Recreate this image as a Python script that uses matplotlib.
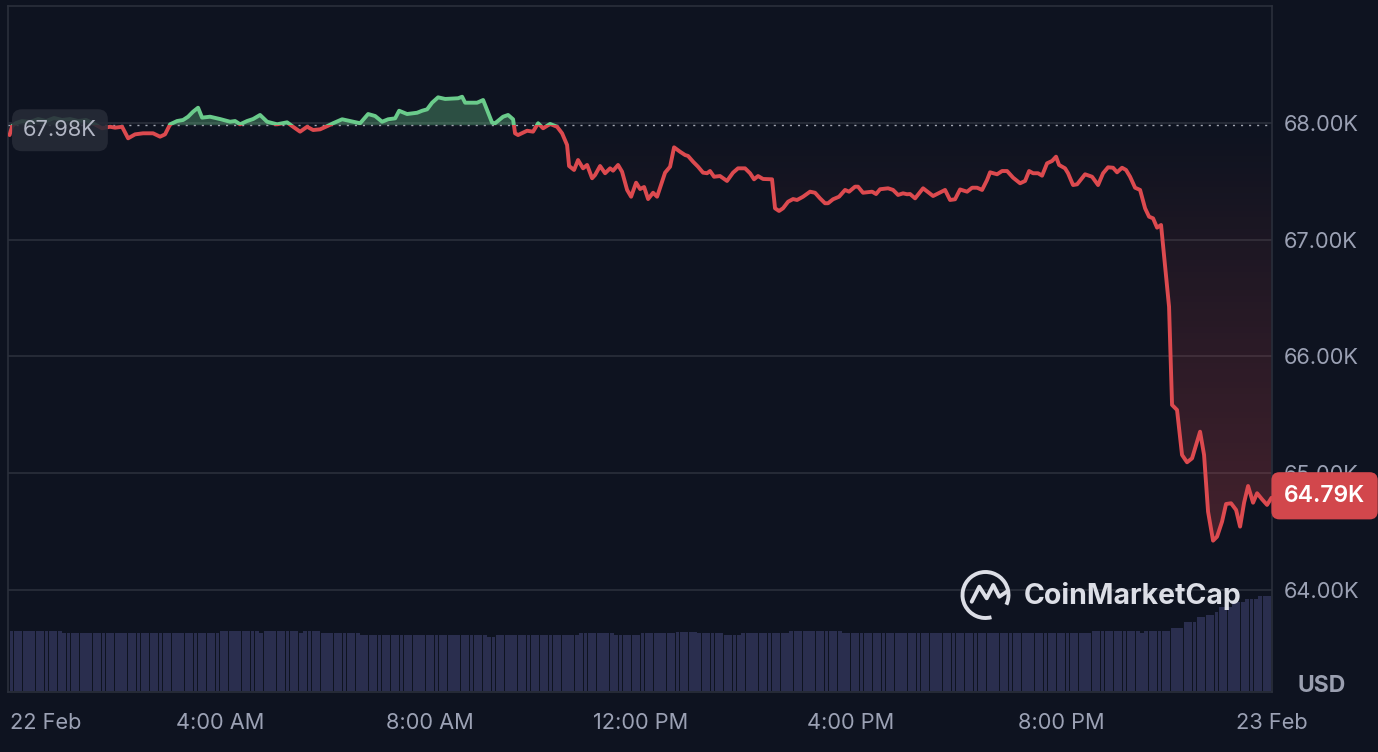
import numpy as np
import matplotlib
matplotlib.use("Agg")
import matplotlib.pyplot as plt
from matplotlib.patches import Rectangle, Arc
from matplotlib.path import Path

plt.rcParams['font.family'] = ['Inter', 'DejaVu Sans']

# ---------------- data ----------------
HOURS = [
    0.000, 0.048, 0.124, 0.238, 0.390, 0.542, 0.694, 0.846, 0.998, 1.151,
    1.303, 1.455, 1.607, 1.759, 1.911, 2.007, 2.140, 2.254, 2.387, 2.539,
    2.729, 2.862, 2.957, 3.053, 3.186, 3.300, 3.395, 3.490, 3.585, 3.661,
    3.813, 4.003, 4.193, 4.289, 4.384, 4.517, 4.631, 4.764, 4.898, 5.088,
    5.278, 5.392, 5.525, 5.659, 5.773, 5.906, 6.058, 6.153, 6.325, 6.534,
    6.667, 6.819, 6.952, 7.085, 7.200, 7.333, 7.409, 7.560, 7.751, 7.846,
    7.941, 8.036, 8.150, 8.284, 8.531, 8.607, 8.664, 8.892, 9.006, 9.082,
    9.177, 9.234, 9.386, 9.481, 9.576, 9.614, 9.671, 9.842, 9.956, 10.052,
    10.147, 10.280, 10.413, 10.508, 10.603, 10.641, 10.736, 10.812, 10.907, 10.984,
    11.079, 11.136, 11.231, 11.326, 11.421, 11.478, 11.573, 11.649, 11.745, 11.821,
    11.916, 11.992, 12.068, 12.144, 12.239, 12.315, 12.467, 12.562, 12.638, 12.752,
    12.847, 12.904, 12.999, 13.094, 13.189, 13.265, 13.322, 13.398, 13.512, 13.645,
    13.759, 13.854, 13.988, 14.083, 14.159, 14.235, 14.330, 14.501, 14.558, 14.634,
    14.710, 14.806, 14.901, 14.977, 15.091, 15.224, 15.319, 15.414, 15.509, 15.566,
    15.661, 15.776, 15.890, 15.966, 16.080, 16.137, 16.232, 16.404, 16.480, 16.556,
    16.708, 16.803, 16.898, 16.993, 17.069, 17.126, 17.222, 17.374, 17.564, 17.792,
    17.887, 17.982, 18.077, 18.211, 18.306, 18.401, 18.496, 18.591, 18.648, 18.781,
    18.876, 18.971, 19.086, 19.219, 19.314, 19.390, 19.466, 19.561, 19.637, 19.732,
    19.827, 19.903, 19.960, 20.074, 20.131, 20.226, 20.303, 20.455, 20.588, 20.702,
    20.797, 20.892, 20.987, 21.063, 21.158, 21.234, 21.311, 21.406, 21.501, 21.596,
    21.672, 21.748, 21.824, 21.900, 22.052, 22.109, 22.204, 22.299, 22.394, 22.490,
    22.642, 22.718, 22.794, 22.889, 22.965, 23.060, 23.136, 23.231, 23.327, 23.403,
    23.479, 23.555, 23.650, 23.726, 23.821, 23.916, 24.000,
]
PRICES = [
    67896, 67973, 67999, 68016, 68008, 68033, 68016, 68042, 68025, 68033,
    68016, 68025, 67991, 67954, 67967, 67959, 67967, 67868, 67902, 67911,
    67911, 67882, 67902, 67988, 68016, 68025, 68053, 68096, 68130, 68045,
    68053, 68033, 68010, 68016, 67988, 68016, 68033, 68068, 68010, 67988,
    68005, 67967, 67925, 67967, 67939, 67945, 67976, 67997, 68031, 68010,
    67997, 68076, 68059, 68010, 68031, 68039, 68104, 68076, 68087, 68104,
    68116, 68173, 68219, 68205, 68211, 68224, 68173, 68173, 68196, 68110,
    68002, 67997, 68053, 68068, 68031, 67911, 67896, 67933, 67925, 67997,
    67954, 67991, 67967, 67911, 67811, 67631, 67597, 67682, 67611, 67640,
    67526, 67554, 67631, 67569, 67611, 67591, 67640, 67582, 67426, 67368,
    67488, 67434, 67451, 67348, 67402, 67368, 67574, 67625, 67791, 67753,
    67725, 67717, 67668, 67625, 67574, 67569, 67588, 67539, 67545, 67503,
    67574, 67611, 67611, 67569, 67517, 67545, 67520, 67517, 67269, 67246,
    67269, 67325, 67348, 67340, 67368, 67411, 67402, 67354, 67312, 67312,
    67346, 67368, 67426, 67411, 67454, 67454, 67402, 67411, 67391, 67432,
    67440, 67426, 67383, 67397, 67389, 67391, 67354, 67440, 67374, 67426,
    67340, 67346, 67430, 67411, 67445, 67445, 67426, 67511, 67577, 67560,
    67588, 67588, 67531, 67483, 67503, 67588, 67569, 67569, 67548, 67654,
    67674, 67711, 67640, 67611, 67569, 67468, 67474, 67560, 67539, 67468,
    67569, 67620, 67616, 67577, 67616, 67597, 67539, 67445, 67426, 67269,
    67197, 67183, 67103, 67126, 66426, 65585, 65542, 65157, 65094, 65128,
    65356, 65157, 64671, 64423, 64457, 64586, 64737, 64743, 64686, 64543,
    64748, 64891, 64748, 64829, 64777, 64729, 64790,
]
OPEN_PRICE = 67980
LAST_PRICE = 64790
OPEN_LABEL = "67.98K"
LAST_LABEL = "64.79K"

# 5-minute volume bars as (number of bars, volume in $B)
VOL_RUNS = [
    (12, 30.0), (36, 28.85), (9, 30.0), (1, 29.0), (8, 30.0), (1, 29.0),
    (4, 30.0), (9, 28.85), (29, 28.0), (2, 26.85), (19, 28.0), (8, 28.85),
    (6, 28.0), (8, 28.85), (5, 29.5), (5, 29.0), (1, 28.85), (4, 28.0),
    (11, 28.85), (12, 30.0), (20, 29.25), (37, 28.85), (11, 30.0), (1, 29.0),
    (6, 30.0), (3, 31.5), (3, 34.65), (2, 37.0), (2, 38.0), (1, 39.5),
    (3, 42.0), (3, 44.5), (3, 46.0), (3, 47.5),
]
BAR_HOURS = 1 / 12  # 5 minutes

YTICKS = [64000, 65000, 66000, 67000, 68000]
YTICK_LABELS = ["64.00K", "65.00K", "66.00K", "67.00K", "68.00K"]
XTICKS = [0, 4, 8, 12, 16, 20, 24]
XTICK_LABELS = ["22 Feb", "4:00 AM", "8:00 AM", "12:00 PM", "4:00 PM", "8:00 PM", "23 Feb"]

# ---------------- style ----------------
BG = "#0e1320"
GRID = "#2a2f3b"
GREEN = "#6acb8b"
RED = "#dc4a4f"
VOLC = "#2a2e4e"
TICKC = "#9ba1b4"

W, H = 1378, 752
fig = plt.figure(figsize=(W / 100, H / 100), dpi=100)
fig.patch.set_facecolor(BG)

XMIN, XMAX = -0.03, 24.01
YMIN, YMAX = 63127, 69001

ax = fig.add_axes([8 / W, 1 - 692 / H, 1264 / W, 686 / H])
ax.set_facecolor(BG)

t = np.array(HOURS, dtype=float)
p = np.array(PRICES, dtype=float)

# green fill above open
ax.fill_between(t, p, OPEN_PRICE, where=p >= OPEN_PRICE, interpolate=True,
                color=GREEN, alpha=0.33, lw=0, zorder=2)

# red gradient fill below open
poly = ax.fill_between(t, p, OPEN_PRICE, where=p <= OPEN_PRICE, interpolate=True,
                       facecolor="none", edgecolor="none", lw=0)
clip = Path.make_compound_path(*poly.get_paths())
ny = 400
ygrid = np.linspace(YMIN, OPEN_PRICE, ny)
img = np.zeros((ny, 1, 4))
img[..., 0], img[..., 1], img[..., 2] = 0.86, 0.29, 0.31
img[:, 0, 3] = np.clip((OPEN_PRICE - ygrid) / 1000 * 0.075, 0, 0.3)
im = ax.imshow(img, extent=[XMIN, XMAX, YMIN, OPEN_PRICE], origin="lower",
               aspect="auto", interpolation="bilinear", zorder=2)
im.set_clip_path(clip, transform=ax.transData)

# price line, green above / red below open
LW = 2.8
lg, = ax.plot(t, p, color=GREEN, lw=LW, zorder=5, solid_joinstyle="round",
              solid_capstyle="round")
lg.set_clip_path(Rectangle((XMIN, OPEN_PRICE), XMAX - XMIN, YMAX - OPEN_PRICE,
                           transform=ax.transData))
lr, = ax.plot(t, p, color=RED, lw=LW, zorder=5, solid_joinstyle="round",
              solid_capstyle="round")
lr.set_clip_path(Rectangle((XMIN, YMIN), XMAX - XMIN, OPEN_PRICE - YMIN,
                           transform=ax.transData))

# dotted open line
ax.axhline(OPEN_PRICE, color="#a3a7b3", lw=1.0, dashes=(1.5, 4.3), zorder=4)

ax.set_xlim(XMIN, XMAX)
ax.set_ylim(YMIN, YMAX)
ax.set_yticks(YTICKS)
ax.set_yticklabels(YTICK_LABELS)
ax.yaxis.tick_right()
ax.grid(axis="y", color=GRID, lw=1.2, zorder=1)
ax.set_xticks(XTICKS)
ax.set_xticklabels(XTICK_LABELS)
ax.tick_params(axis="y", length=0, pad=8.6, labelsize=15.7, labelcolor=TICKC)
ax.tick_params(axis="x", length=0, pad=15, labelsize=15.7, labelcolor=TICKC)
ax.get_xticklabels()[0].set_ha("left")
for s in ax.spines.values():
    s.set_color(GRID)
    s.set_linewidth(1.2)

# left open-price label
ax.annotate(OPEN_LABEL, xy=(0, OPEN_PRICE), xycoords=ax.get_yaxis_transform(),
            xytext=(15, -5), textcoords="offset pixels", ha="left", va="center",
            fontsize=15.8, color="#b2b6c4", zorder=8,
            bbox=dict(boxstyle="round,pad=0.5,rounding_size=0.45",
                      fc="#272b37", ec="none", alpha=0.88))

# right last-price label
ax.annotate(LAST_LABEL, xy=(1, LAST_PRICE), xycoords=ax.get_yaxis_transform(),
            xytext=(12, 2), textcoords="offset pixels", ha="left", va="center",
            fontsize=16.5, color="white", fontweight="semibold", zorder=10,
            annotation_clip=False,
            bbox=dict(boxstyle="round,pad=0.55,rounding_size=0.35",
                      fc="#d2474c", ec="none"))

# volume bars
vol = np.repeat([v for _, v in VOL_RUNS], [n for n, _ in VOL_RUNS])
vt = np.arange(len(vol)) * BAR_HOURS
vax = fig.add_axes([8 / W, 1 - 691 / H, 1264 / W, 100 / H])
vax.set_facecolor("none")
vax.bar(vt, vol, width=BAR_HOURS * 0.88, align="edge", color=VOLC, lw=0)
vax.set_xlim(XMIN, XMAX)
vax.set_ylim(0, 50)
vax.axis("off")

# USD unit label
fig.text(1322 / W, 1 - 686 / H, "USD", ha="center", va="center", fontsize=16.5,
         fontweight="bold", color="#9a9fb0")

# watermark
lax = fig.add_axes([0, 0, 1, 1])
lax.set_xlim(0, W)
lax.set_ylim(H, 0)
lax.axis("off")
lax.set_facecolor("none")
WM = "#dcdee6"
cx, cy, r = 985.5, 595, 23
lax.add_patch(Arc((cx, cy), 2 * r, 2 * r, theta1=75, theta2=385, lw=2.8, color=WM))
wave = np.array([(-13.8, 6.7), (-6.2, -8.3), (1.2, 3.3), (7.8, -10), (13.8, 1.7), (21.2, -3.3)])
lax.plot(cx + wave[:, 0], cy + wave[:, 1], color=WM, lw=2.8, solid_joinstyle="round",
         solid_capstyle="round")
lax.text(1024, 604, "CoinMarketCap", ha="left", va="baseline", fontsize=20.5,
         fontweight="bold", color=WM)

fig.savefig("out.png", dpi=100, facecolor=BG)
